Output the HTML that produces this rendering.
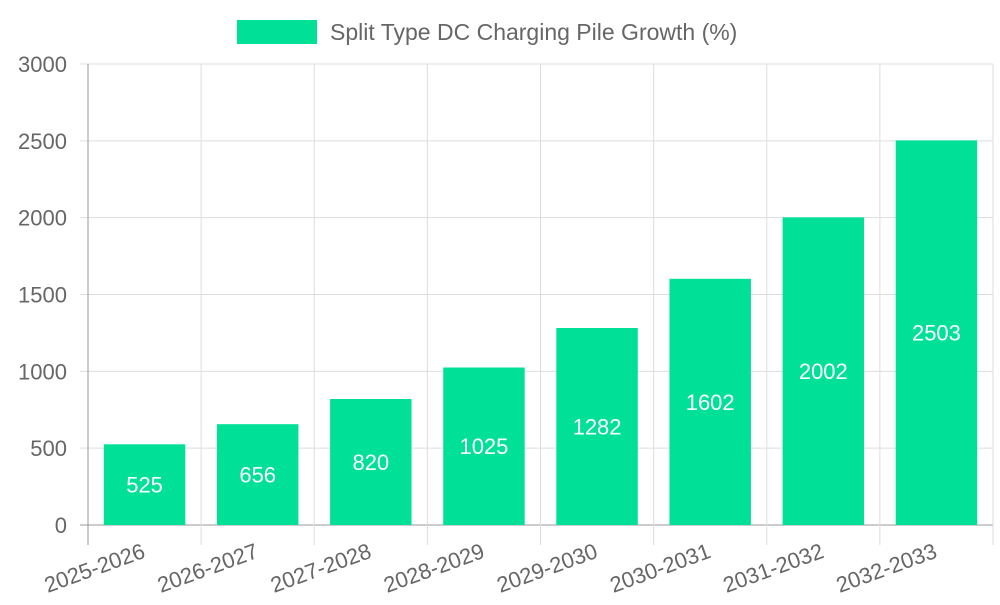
<!DOCTYPE html>
<html><head><meta charset="utf-8"><style>
body{margin:0;background:#fff;font-family:"Liberation Sans",sans-serif}
</style></head><body>
<svg id="chart" width="1000" height="600" xmlns="http://www.w3.org/2000/svg" font-family="Liberation Sans, sans-serif">
<g>
<rect x="237" y="20" width="80" height="24" fill="#00e096"/>
<text x="330" y="40" font-size="23" fill="#666">Split Type DC Charging Pile Growth (%)</text>
</g>
<g id="grid"></g><g id="bars"></g><g id="labels"></g>
</svg>
<script>
const categories=["2025-2026","2026-2027","2027-2028","2028-2029","2029-2030","2030-2031","2031-2032","2032-2033"];
const values=[525,656,820,1025,1282,1602,2002,2503];
const yTicks=[0,500,1000,1500,2000,2500,3000];
const ns="http://www.w3.org/2000/svg";
const L=88,R=993,T=64,B=525,yMax=3000;
const cw=(R-L)/categories.length;
const y=v=>B-(v/yMax)*(B-T);
const xc=i=>L+cw*(i+0.5);
function mk(tag,attrs,parent,txt){const e=document.createElementNS(ns,tag);for(const k in attrs)e.setAttribute(k,attrs[k]);if(txt!==undefined)e.textContent=txt;parent.appendChild(e);return e;}
const grid=document.getElementById('grid'),bars=document.getElementById('bars'),labels=document.getElementById('labels');
yTicks.forEach(t=>{
 const ln=mk('line',{x1:L-8,x2:R,y1:y(t),y2:y(t),stroke:t===0?'#999':'#ddd','stroke-width':1},grid);
 
 
 const tx=mk('text',{x:L-21,y:y(t)+8,'text-anchor':'end','font-size':22,fill:'#666'},grid,t);
 
 
});
for(let i=0;i<=categories.length;i++){
 const x=L+cw*i;
 const ln=mk('line',{x1:x,x2:x,y1:T,y2:B+20,stroke:i===0?'#999':'#ddd','stroke-width':1},grid);
 
 
}
const bw=cw*0.72;
categories.forEach((c,i)=>{
 const r=mk('rect',{x:xc(i)-bw/2,y:y(values[i]),width:bw,height:B-y(values[i]),fill:'#00e096'},bars);
 
 
 const v=mk('text',{x:xc(i),y:(y(values[i])+B)/2+8,'text-anchor':'middle','font-size':22,fill:'#fff'},labels,values[i]);
 
 
 const t=mk('text',{x:xc(i)+2,y:B+32,'text-anchor':'end','font-size':22,fill:'#666',transform:`rotate(-20 ${xc(i)+2} ${B+32})`},labels,c);
 
 
});
</script>
</body></html>
